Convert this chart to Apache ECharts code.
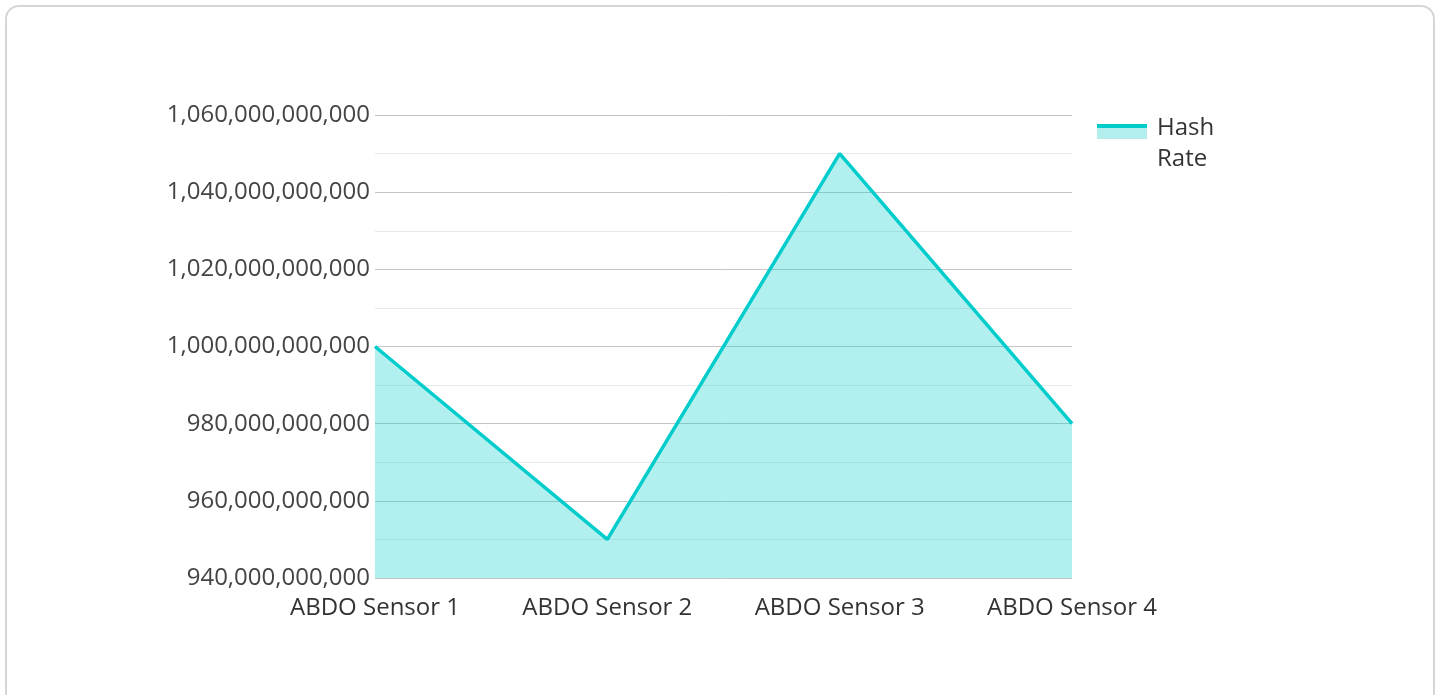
<!DOCTYPE html>
<html>
<head>
<meta charset="utf-8">
<script src="https://cdn.jsdelivr.net/npm/echarts@6/dist/echarts.min.js"></script>
<style>
html,body{margin:0;padding:0;background:#fff;width:1445px;height:695px;overflow:hidden;}
#card{position:absolute;left:5px;top:5px;width:1430px;height:710px;border:2px solid #d6d6d6;border-radius:14px;box-sizing:border-box;}
#chart{position:absolute;left:0;top:0;width:1445px;height:695px;}
</style>
</head>
<body>
<div id="card"></div>
<div id="chart"></div>
<script>
const categories = ['ABDO Sensor 1', 'ABDO Sensor 2', 'ABDO Sensor 3', 'ABDO Sensor 4'];
const hashRate = [1000000000000, 950000000000, 1050000000000, 980000000000];
const seriesName = 'Hash Rate';
const yMin = 940000000000;
const yMax = 1060000000000;
const yInterval = 20000000000;

const lineColor = '#00cccc';
const fillColor = 'rgba(0,204,204,0.3)';
const font = 'Open Sans';

const chart = echarts.init(document.getElementById('chart'));
chart.setOption({
  animation: false,
  textStyle: { fontFamily: font },
  grid: { left: 375, right: 373, top: 115, bottom: 117, containLabel: false },
  legend: {
    data: [seriesName],
    left: 1092, top: 108,
    orient: 'vertical',
    itemWidth: 50, itemHeight: 40,
    itemGap: 10,
    icon: 'rect',
    itemStyle: {
      color: { type: 'linear', x: 0, y: 0, x2: 0, y2: 1, colorStops: [
        { offset: 0, color: lineColor }, { offset: 0.09, color: lineColor },
        { offset: 0.09, color: '#b2eeee' }, { offset: 0.375, color: '#b2eeee' },
        { offset: 0.375, color: 'rgba(255,255,255,0)' }, { offset: 1, color: 'rgba(255,255,255,0)' }] },
      borderWidth: 0
    },
    lineStyle: { width: 0, opacity: 0 },
    formatter: n => n.replace(' ', '\n'),
    textStyle: { fontFamily: font, fontSize: 24, color: '#333', lineHeight: 31, padding: [0, 0, 0, 5] }
  },
  xAxis: {
    type: 'category',
    data: categories,
    boundaryGap: false,
    axisLine: { show: false },
    axisTick: { show: false },
    axisLabel: { fontFamily: font, fontSize: 24, color: '#333', margin: 18 }
  },
  yAxis: {
    type: 'value',
    min: yMin, max: yMax, interval: yInterval,
    axisLine: { show: false },
    axisTick: { show: false },
    axisLabel: { fontFamily: font, fontSize: 24, color: '#444', margin: 5,
      formatter: v => v.toLocaleString('en-US') },
    splitLine: { show: true, lineStyle: { color: '#c4c4c4', width: 1 } },
    minorTick: { show: false, splitNumber: 2 },
    minorSplitLine: { show: true, lineStyle: { color: '#e8e8e8', width: 1 } }
  },
  series: [{
    name: seriesName,
    type: 'line',
    data: hashRate,
    showSymbol: false,
    symbol: 'none',
    lineStyle: { color: lineColor, width: 3.5 },
    itemStyle: { color: lineColor },
    areaStyle: { color: fillColor, opacity: 1 }
  }]
});
</script>
</body>
</html>
